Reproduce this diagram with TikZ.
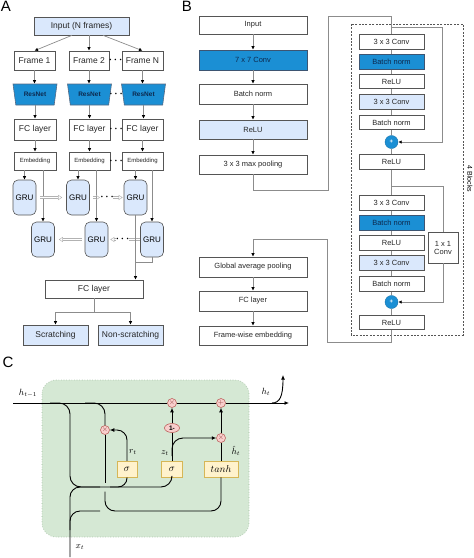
\documentclass[tikz,border=0pt]{standalone}
\usepackage[no-math]{fontspec}
\setmainfont{Liberation Sans}
\usetikzlibrary{arrows.meta,shapes.geometric,calc}
\definecolor{lblue}{HTML}{DAE8FC}
\definecolor{dblue}{HTML}{1B8FD4}
\definecolor{navy}{HTML}{0D2A4F}
\definecolor{bord}{HTML}{555555}
\definecolor{lgray}{HTML}{8C8C8C}
\definecolor{gfill}{HTML}{D5E8D4}
\definecolor{gdraw}{HTML}{9AB89A}
\definecolor{pfill}{HTML}{F8CECC}
\definecolor{pdraw}{HTML}{B85450}
\definecolor{yfill}{HTML}{FFF2CC}
\definecolor{ydraw}{HTML}{D6B656}
\begin{document}
\begin{tikzpicture}[x=1pt,y=-1pt,
  bx/.style={draw=bord, line width=0.6pt, rectangle, inner sep=0pt, text=black!85},
  fA/.style={font=\fontsize{8.5}{9}\selectfont},
  fB/.style={font=\fontsize{7.5}{8}\selectfont},
  fR/.style={font=\fontsize{7.5}{8}\selectfont},
  lbx/.style={bx, fill=lblue},
  dbx/.style={bx, fill=dblue, draw=navy!80, text=navy},
  rn/.style={trapezium, trapezium stretches=true, shape border rotate=180,
     trapezium left angle=70, trapezium right angle=70, fill=dblue, draw=navy!70,
     line width=0.6pt, inner sep=0pt, minimum width=44pt, minimum height=21pt,
     text=navy, font=\fontsize{6.5}{7}\selectfont\bfseries},
  gru/.style={draw=bord, fill=lblue, line width=0.6pt, rounded corners=5pt,
     minimum width=23pt, minimum height=35pt, inner sep=0pt, font=\fontsize{8}{9}\selectfont},
  dts/.style={inner sep=0pt, font=\boldmath},
  lineB/.style={draw=lgray, line width=0.7pt},
  arr/.style={lineB, -{Latex[length=3.5pt,width=3.5pt,color=black]}},
  hol/.style={draw=gray!60, line width=0.45pt, double=white, double distance=1.3pt,
     -{Triangle[open,length=4pt,width=5pt]}},
  plus/.style={circle, fill=dblue, draw=dblue!80!black, minimum size=13pt, inner sep=0pt,
     text=white, font=\fontsize{6}{6}\selectfont\bfseries},
  wire/.style={draw=black, line width=0.9pt},
  warr/.style={wire, -{Latex[length=4.5pt,width=4pt]}},
  op/.style={circle, fill=pfill, draw=pdraw, line width=0.5pt, minimum size=9pt, inner sep=0pt,
     text=pdraw!80!black, font=\fontsize{7}{7}\selectfont},
  gate/.style={rectangle, fill=yfill, draw=ydraw, line width=0.5pt, minimum height=16pt,
     inner sep=0pt, font=\fontsize{10}{10}\selectfont},
  mlab/.style={inner sep=0pt, font=\fontsize{9}{9}\selectfont},
  plab/.style={inner sep=0pt, font=\fontsize{15}{15}\selectfont}
]
\useasboundingbox (0,0) rectangle (474,558);
% ---------------- Panel A ----------------
\node[plab] (LA) at (6,6) {A};
\node[lbx, fA, minimum width=95pt, minimum height=18pt] (inp) at (81.5,26) {Input (N frames)};
\node[bx, fA, minimum width=41pt, minimum height=19pt] (f1) at (34.5,60.5) {Frame 1};
\node[bx, fA, minimum width=40pt, minimum height=19pt] (f2) at (89,60.5) {Frame 2};
\node[bx, fA, minimum width=41pt, minimum height=19pt] (fN) at (142.5,60.5) {Frame N};
\node[rn] (r1) at (35,94.5) {ResNet};
\node[rn] (r2) at (89.5,94.5) {ResNet};
\node[rn] (rN) at (143.5,94.5) {ResNet};
\node[bx, fA, minimum width=42pt, minimum height=21pt] (fc1) at (35,129.5) {FC layer};
\node[bx, fA, minimum width=41pt, minimum height=21pt] (fc2) at (89.5,129.5) {FC layer};
\node[bx, fA, minimum width=41pt, minimum height=21pt] (fc3) at (142.5,129.5) {FC layer};
\node[bx, font=\fontsize{6}{7}\selectfont, minimum width=42pt, minimum height=18pt] (e1) at (35,161) {Embedding};
\node[bx, font=\fontsize{6}{7}\selectfont, minimum width=41pt, minimum height=18pt] (e2) at (89.5,161) {Embedding};
\node[bx, font=\fontsize{6}{7}\selectfont, minimum width=41pt, minimum height=18pt] (e3) at (142.5,161) {Embedding};
\node[dts] (d1) at (115.5,60.5) {$\cdots$};
\node[dts] (d2) at (116,94.5) {$\cdots$};
\node[dts] (d3) at (116,129.5) {$\cdots$};
\node[dts] (d4) at (116,161) {$\cdots$};
\draw[arr] ($(inp.south)+(-9.5,0)$) -- (f1.north);
\draw[arr] (inp.south -| f2.north) -- (f2.north);
\draw[arr] ($(inp.south)+(21.5,0)$) -- (fN.north);
\foreach \a/\b in {f1/r1,f2/r2,fN/rN,r1/fc1,r2/fc2,rN/fc3,fc1/e1,fc2/e2,fc3/e3}{
  \draw[arr] (\a.south) -- (\a.south |- \b.north);
}
% GRUs
\node[gru] (g11) at (24.5,197.5) {GRU};
\node[gru] (g12) at (78,197.5) {GRU};
\node[gru] (g13) at (135.5,197.5) {GRU};
\node[gru] (g21) at (43,239.5) {GRU};
\node[gru] (g22) at (96.5,239.5) {GRU};
\node[gru] (g23) at (152,239.5) {GRU};
\draw[arr] (g11.north |- e1.south) -- (g11.north);
\draw[arr] (g21.north |- e1.south) -- (g21.north);
\draw[arr] (g12.north |- e2.south) -- (g12.north);
\draw[arr] (g22.north |- e2.south) -- (g22.north);
\draw[arr] (g13.north |- e3.south) -- (g13.north);
\draw[arr] (g23.north |- e3.south) -- (g23.north);
% recurrent arrows
\draw[hol] ($(g11.east)+(4,0)$) -- ($(g12.west)+(-4,0)$);
\coordinate (h1a) at (100,197.5);
\draw[hol] ($(g12.east)+(3,0)$) -- (h1a);
\node[dts] (d5) at (107,197.5) {$\cdots$};
\coordinate (h1b) at (113,197.5);
\draw[hol] (h1b) -- ($(g13.west)+(-1,0)$);
\draw[hol] ($(g22.west)+(-3,0)$) -- ($(g21.east)+(4,0)$);
\coordinate (h2a) at (116,239.5);
\draw[hol] (h2a) -- ($(g22.east)+(2,0)$);
\node[dts] (d6) at (122.5,239.5) {$\cdots$};
\coordinate (h2b) at (129,239.5);
\draw[draw=gray!60, line width=0.45pt, double=white, double distance=1.3pt] (h2b) -- (g23.west);
% output
\node[bx, fA, minimum width=98pt, minimum height=18pt] (fcA) at (94,289) {FC layer};
\draw[arr] (g13.south) -- (g13.south |- fcA.north);
\coordinate (j1) at (135.5,262);
\draw[lineB] (g23.south) |- (j1);
\node[lbx, fA, minimum width=65pt, minimum height=20pt] (sc) at (55.5,335) {Scratching};
\node[lbx, fA, minimum width=65pt, minimum height=20pt] (ns) at (130.5,335) {Non-scratching};
\coordinate (fb) at (94,312);
\draw[lineB] (fcA.south) -- (fb);
\draw[arr] (fb) -| (sc.north);
\draw[arr] (fb) -| (ns.north);
% ---------------- Panel B ----------------
\node[plab] (LB) at (187,6) {B};
\node[bx, fB, minimum width=108pt, minimum height=18pt] (inB) at (253,25) {Input};
\node[dbx, fB, minimum width=108pt, minimum height=20pt] (cv7) at (253,60) {7 x 7 Conv};
\node[bx, fB, minimum width=108pt, minimum height=20pt] (bn0) at (253,94) {Batch norm};
\node[lbx, fB, minimum width=108pt, minimum height=19pt] (rl0) at (253,129.5) {ReLU};
\node[bx, fB, minimum width=108pt, minimum height=19pt] (mp) at (253,164.5) {3 x 3 max pooling};
\draw[arr] (inB) -- (cv7);
\draw[arr] (cv7) -- (bn0);
\draw[arr] (bn0) -- (rl0);
\draw[arr] (rl0) -- (mp);
\node[bx, fB, minimum width=108pt, minimum height=20pt] (gap) at (253,267) {Global average pooling};
\node[bx, fB, minimum width=108pt, minimum height=20pt] (fcB) at (253,301) {FC layer};
\node[bx, fB, minimum width=108pt, minimum height=19pt] (fwe) at (253,335.5) {Frame-wise embedding};
\draw[arr] (gap) -- (fcB);
\draw[arr] (fcB) -- (fwe);
% right column
\draw[draw=bord, line width=0.7pt, dash pattern=on 2pt off 1.4pt] (351,24) rectangle (463,335);
\node[rotate=-90, font=\fontsize{7}{8}\selectfont, inner sep=0pt] (blk) at (470,179) {4 Blocks};
\foreach \n/\y/\s/\t in {a1/42/bx/3 x 3 Conv, a2/62/dbx/Batch norm, a3/81.5/bx/ReLU, a4/102/lbx/3 x 3 Conv, a5/122.5/bx/Batch norm, a6/162/bx/ReLU,
  b1/203/bx/3 x 3 Conv, b2/223/dbx/Batch norm, b3/243/bx/ReLU, b4/263/lbx/3 x 3 Conv, b5/284/bx/Batch norm, b6/322.5/bx/ReLU}{
  \node[\s, fR, minimum width=65pt, minimum height=14.5pt] (\n) at (391.5,\y) {\t};
}
\node[plus] (p1) at (391.5,142) {+};
\node[plus] (p2) at (391.5,302) {+};
\draw[lineB] (a1) -- (a2) -- (a3) -- (a4) -- (a5) -- (p1) -- (a6) -- (b1) -- (b2) -- (b3) -- (b4) -- (b5) -- (p2) -- (b6);
\coordinate (m1) at (253,190);
\coordinate (m2) at (328,16);
\draw[lineB] (mp.south) -- (m1) -| (m2) -| (a1.north);
\coordinate (s1) at (391.5,27);
\draw[arr] (s1) -- (442,27) |- (p1.east);
\node[bx, fR, minimum width=30pt, minimum height=31pt, align=center] (c11) at (443,247.5) {1 x 1\\Conv};
\coordinate (s2) at (391.5,186);
\draw[lineB] (s2) -| (c11.north);
\draw[arr] (c11.south) |- (p2.east);
\coordinate (m3) at (391.5,342);
\coordinate (m4) at (327,239);
\draw[arr] (b6.south) -- (m3) -| (m4) -| (gap.north);
% ---------------- Panel C ----------------
\node[plab] (LC) at (8,362) {C};
\draw[fill=gfill, draw=gdraw, dotted, line width=0.6pt, rounded corners=14pt] (42,380) rectangle (249,537);
\coordinate (hin) at (13,403);
\coordinate (hout) at (289,403);
\node[op] (mz) at (172,403) {$\times$};
\node[op] (pa) at (221,403) {$+$};
\node[op] (rx) at (105,430) {$\times$};
\node[op] (hx) at (221,438) {$\times$};
\node[ellipse, fill=pfill, draw=pdraw, line width=0.5pt, minimum width=15pt, minimum height=9pt, inner sep=0pt,
  font=\fontsize{6.5}{7}\selectfont\bfseries] (om) at (172,428) {1-};
\node[gate, minimum width=20pt] (sr) at (127,469) {$\sigma$};
\node[gate, minimum width=21pt] (sz) at (172,469) {$\sigma$};
\node[gate, minimum width=34pt] (th) at (221,469) {$tanh$};
\draw[wire] (hin) -- (mz);
\draw[wire] (mz) -- (pa);
\draw[warr] (pa) -- (hout);
\draw[warr] (272,403) .. controls (280,403) and (283,396) .. (283,375);
\node[mlab] (lh0) at (28,393) {$h_{t-1}$};
\node[mlab] (lh1) at (266,392) {$h_t$};
\node[mlab] (lr) at (133,452) {$r_t$};
\node[mlab] (lz) at (165,453) {$z_t$};
\node[mlab] (lhh) at (236,451) {$\hat{h}_t$};
\node[mlab] (lx) at (80,547) {$x_t$};
% h_{t-1} and x_t into the gates
\coordinate (xin) at (70,557);
\draw[wire, rounded corners=11pt] (50,403) -| (70,487) -| (sz.south);
\draw[wire, rounded corners=10pt] (xin) |- (100,487);
\draw[wire, rounded corners=9pt] (110,487) -| (sr.south);
% reset branch
\draw[wire, rounded corners=11pt] (85,403) -| (rx.north);
\draw[warr, rounded corners=10pt] (sr.north) |- (rx.east);
\draw[wire] (rx.south) -- (105,482.5);
\draw[wire, rounded corners=10pt] (105,491.5) |- (150,511) -| (th.south);
\draw[wire, rounded corners=10pt] (70,530) |- (100,511);
% update gate
\draw[wire] (sz.north) -- (om.south);
\draw[warr] (om.north) -- (mz.south);
\draw[warr, rounded corners=11pt] (172,456) |- (hx.west);
% candidate
\draw[wire] (th.north) -- (hx.south);
\draw[warr] (hx.north) -- (pa.south);
\end{tikzpicture}
\end{document}
